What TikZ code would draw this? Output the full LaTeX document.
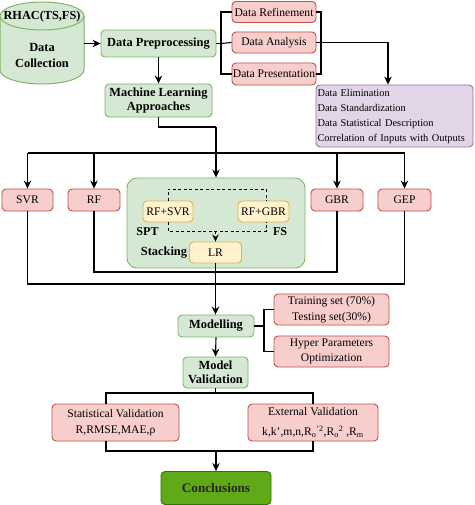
\documentclass[tikz,border=0pt]{standalone}
\usepackage{fontspec}
\setmainfont{Liberation Serif}
\usetikzlibrary{arrows.meta}
\definecolor{gfill}{HTML}{D5E8D4}
\definecolor{gline}{HTML}{82B366}
\definecolor{rfill}{HTML}{F8CECC}
\definecolor{rline}{HTML}{B85450}
\definecolor{yfill}{HTML}{FFF2CC}
\definecolor{yline}{HTML}{D6B656}
\definecolor{pfill}{HTML}{E1D5E7}
\definecolor{pline}{HTML}{9673A6}
\definecolor{cfill}{HTML}{60A917}
\definecolor{cline}{HTML}{2D7600}
\begin{document}
\begin{tikzpicture}[x=1pt,y=-1pt,
  box/.style={rounded corners=4pt, line width=0.9pt, inner sep=0pt, align=center},
  gbox/.style={box, draw=gline, fill=gfill, font=\fontsize{12.4}{14.5}\selectfont\bfseries},
  rbox/.style={box, draw=rline, fill=rfill, font=\fontsize{11.6}{15.5}\selectfont},
  ybox/.style={box, draw=yline, fill=yfill, font=\fontsize{11.6}{14}\selectfont},
  pbox/.style={box, draw=pline, fill=pfill, font=\fontsize{10.4}{15}\selectfont, align=left},
  lbl/.style={font=\fontsize{12.4}{14}\selectfont\bfseries, inner sep=0pt},
  conn/.style={line width=1.1pt, draw=black},
  arr/.style={conn, -{Stealth[length=8pt,width=7.5pt]}},
  dsh/.style={line width=0.9pt, dash pattern=on 3pt off 2.5pt}
]
\useasboundingbox[fill=white] (0,0) rectangle (474,505);

% cylinder
\path[draw=gline, fill=gfill, line width=1pt] (0,16) -- (0,70)
  arc[start angle=180, end angle=0, x radius=42, y radius=14] -- (84,16)
  arc[start angle=0, end angle=-180, x radius=42, y radius=14] -- cycle;
\draw[gline, line width=1pt] (0,16) arc[start angle=180, end angle=0, x radius=42, y radius=14];
\node[inner sep=0pt, minimum width=84pt, minimum height=84pt] (dc) at (42,43) {};
\node[lbl, font=\fontsize{12.3}{14}\selectfont\bfseries] (dct) at (42,17) {RHAC(TS,FS)};
\node[lbl, align=center, font=\fontsize{12.4}{16}\selectfont\bfseries] (dcl) at (42,55.5) {Data\\Collection};

% preprocessing
\node[gbox, minimum width=115pt, minimum height=27pt] (dp) at (158.5,43.5) {Data Preprocessing};
\node[gbox, minimum width=107pt, minimum height=33pt] (ml) at (158.5,100.5) {Machine Learning\\Approaches};

\node[rbox, minimum width=84pt, minimum height=21pt] (dref) at (274,12) {Data Refinement};
\node[rbox, minimum width=84pt, minimum height=21pt] (dana) at (274,42.5) {Data Analysis};
\node[rbox, minimum width=84pt, minimum height=22pt] (dpres) at (274,74) {Data Presentation};

\node[pbox, minimum width=157pt, minimum height=62pt, text width=154pt] (pur) at (394.5,116) {Data Elimination\\Data Standardization\\Data Statistical Description\\Correlation of Inputs with Outputs};

\draw[arr] (dc.east |- dp.west) -- (dp.west);
\draw[arr] (dp.south) -- (ml.north);
\draw[conn] (dp.east) -- (221,43.5);
\draw[conn] (dref.west) -| (221,43.5) |- (dpres.west);
\draw[conn] (221,43.5) -- (dana.west);
\draw[conn] (dref.east) -| (321,43) |- (dpres.east);
\draw[arr] (dana.east) -| (pur.north -| 388,0);

% models
\node[box, draw=gline, fill=gfill, rounded corners=10pt, minimum width=178pt, minimum height=90pt] (cont) at (216,223) {};
\node[rbox, minimum width=51pt, minimum height=22pt] (svr) at (27.5,200) {SVR};
\node[rbox, minimum width=52pt, minimum height=22pt] (rf) at (94,200) {RF};
\node[rbox, minimum width=52pt, minimum height=22pt] (gbr) at (337,200) {GBR};
\node[rbox, minimum width=53pt, minimum height=22pt] (gep) at (404.5,200) {GEP};
\node[ybox, minimum width=50pt, minimum height=21pt] (rfsvr) at (168,211.5) {RF+SVR};
\node[ybox, minimum width=51pt, minimum height=21pt] (rfgbr) at (263.5,211.5) {RF+GBR};
\node[ybox, minimum width=52pt, minimum height=21pt] (lr) at (215.5,252.5) {LR};
\node[lbl, font=\fontsize{12}{14}\selectfont\bfseries] (spt) at (147.5,232) {SPT};
\node[lbl, font=\fontsize{12}{14}\selectfont\bfseries] (fs) at (280,232) {FS};
\node[lbl] (stk) at (164,253) {Stacking};

\coordinate (t1) at (158.5,127);
\coordinate (t2) at (216,127);
\coordinate (hl) at (27.5,153);
\coordinate (hr) at (404.5,153);
\draw[conn] (ml.south) -- (t1) -- (t2);
\draw[arr] (t2) -- (cont.north);
\draw[conn] (hl) -- (hr);
\draw[arr] (hl) -- (svr.north);
\draw[arr] (rf.north |- hl) -- (rf.north);
\draw[arr] (gbr.north |- hl) -- (gbr.north);
\draw[arr] (hr) -- (gep.north);

% dashed stacking frame
\coordinate (dj) at (215.5,231);
\draw[dsh] (rfsvr.north) -- (168,189) -- (266,189) -- (266,201);
\draw[dsh] (rfsvr.south) -- (168,231) -- (266,231) -- (266,222);
\draw[dsh, -{Stealth[length=7pt,width=6.5pt]}] (dj) -- (lr.north);

% model outputs
\node[gbox, minimum width=76pt, minimum height=22pt] (mod) at (216,326) {Modelling};
\node[rbox, minimum width=115pt, minimum height=31pt] (train) at (331.5,309.5) {Training set (70\%)\\Testing set(30\%)};
\node[rbox, minimum width=115pt, minimum height=31pt] (hyp) at (331.5,351.5) {Hyper Parameters\\Optimization};
\node[gbox, minimum width=65pt, minimum height=31pt] (mv) at (215.5,372.5) {Model\\Validation};

\draw[conn] (svr.south) |- (404.5,284) -- (gep.south);
\draw[conn] (rf.south) |- (337,272) -- (gbr.south);
\draw[arr] (lr.south) -- (lr.south |- mod.north);
\draw[conn] (mod.east) -- (264,326);
\draw[conn] (train.west) -| (264,326) |- (hyp.west);
\draw[arr] (mod.south) -- (mv.north);

% validation
\node[rbox, minimum width=127pt, minimum height=37pt] (sv) at (115.5,422.5) {Statistical Validation\\R,RMSE,MAE,ρ};
\node[rbox, minimum width=130pt, minimum height=37pt, font=\fontsize{11.6}{20}\selectfont] (ev) at (313,422.5) {External Validation\\k,k',m,n,R\textsubscript{o}\textsuperscript{'2},R\textsubscript{o}\textsuperscript{2} ,R\textsubscript{m}};
\node[box, draw=cline, fill=cfill, minimum width=110pt, minimum height=33pt, font=\fontsize{13.2}{15}\selectfont\bfseries, text=black!85] (conc) at (216,488) {Conclusions};

\coordinate (v1) at (215.5,393);
\draw[conn] (mv.south) -- (v1);
\draw[conn] (sv.north -| 106,0) |- (v1) -| (ev.north);
\coordinate (v2) at (216,451);
\draw[conn] (sv.south -| 106,0) |- (v2) -| (ev.south);
\draw[arr] (v2) -- (conc.north);
\end{tikzpicture}
\end{document}
